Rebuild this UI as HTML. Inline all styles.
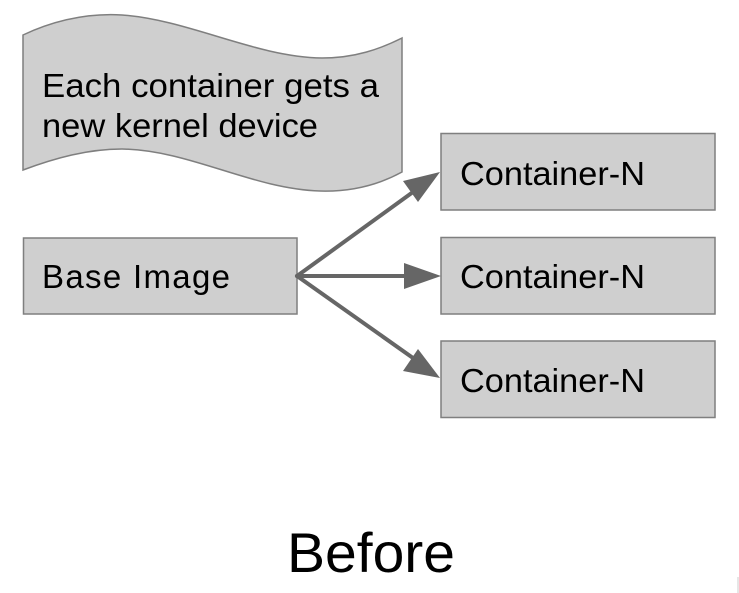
<!DOCTYPE html>
<html><head><meta charset="utf-8"><style>
html,body{margin:0;padding:0;background:#fff;}
svg{display:block;}
text{font-family:"Liberation Sans",sans-serif;fill:#000;}
</style></head><body>
<svg width="739" height="593" viewBox="0 0 739 593" xmlns="http://www.w3.org/2000/svg">
<path d="M23,35 C55,20 88,13 122,15 C190,20 255,57 322,58 C355,58 380,49 402,38 L402,172 C380,184 354,192 320,191 C252,189 190,150 122,149 C88,149 55,158 23,170 Z" fill="#cfcfcf" stroke="#7f7f7f" stroke-width="1.5"/>
<text x="42" y="97" font-size="33" textLength="337" lengthAdjust="spacingAndGlyphs">Each container gets a</text>
<text x="42" y="137" font-size="33" textLength="276" lengthAdjust="spacingAndGlyphs">new kernel device</text>
<rect x="23.5" y="238" width="273.5" height="76" fill="#cfcfcf" stroke="#7f7f7f" stroke-width="1.5"/>
<text x="42" y="288" font-size="33" textLength="188" lengthAdjust="spacing">Base Image</text>
<rect x="441" y="133.5" width="274" height="76.5" fill="#cfcfcf" stroke="#7f7f7f" stroke-width="1.5"/>
<rect x="441" y="237.5" width="274" height="76.5" fill="#cfcfcf" stroke="#7f7f7f" stroke-width="1.5"/>
<rect x="441" y="341" width="274" height="76.5" fill="#cfcfcf" stroke="#7f7f7f" stroke-width="1.5"/>
<text x="460" y="185" font-size="33" textLength="185" lengthAdjust="spacingAndGlyphs">Container-N</text>
<text x="460" y="288" font-size="33" textLength="185" lengthAdjust="spacingAndGlyphs">Container-N</text>
<text x="460" y="392" font-size="33" textLength="185" lengthAdjust="spacingAndGlyphs">Container-N</text>
<g stroke="#666" stroke-width="4" fill="none" stroke-linecap="round">
<line x1="297" y1="276" x2="413" y2="192"/>
<line x1="297" y1="276" x2="406" y2="276"/>
<line x1="297" y1="276" x2="413" y2="358"/>
</g>
<g fill="#666">
<polygon points="440,172 418,202 403,181"/>
<polygon points="441,276 404,263 404,289"/>
<polygon points="440,378 403,371 418,349"/>
</g>
<text x="287" y="572" font-size="56" textLength="168" lengthAdjust="spacingAndGlyphs">Before</text>
<line x1="738" y1="577" x2="738" y2="593" stroke="#ccc" stroke-width="1"/>
</svg>
</body></html>
